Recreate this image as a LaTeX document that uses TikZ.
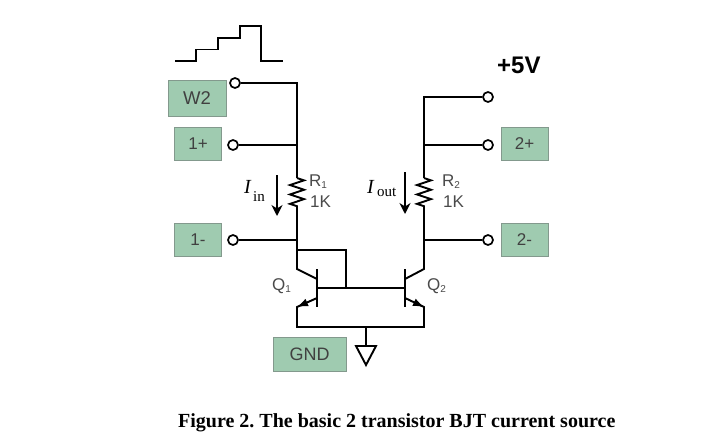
\documentclass[tikz,border=0pt]{standalone}
\usepackage{fontspec}
\setmainfont{Liberation Sans}
\newfontfamily\serifcap{Liberation Serif}
\usetikzlibrary{arrows.meta,decorations.pathmorphing}
\definecolor{boxgreen}{HTML}{9FCBB0}
\definecolor{boxedge}{HTML}{83998D}
\definecolor{labelgrey}{HTML}{4A4A4A}
\tikzset{
  wire/.style={line width=1.9pt,line join=miter},
  term/.style={circle,draw,line width=1.7pt,fill=white,inner sep=0pt,minimum size=10pt},
  pad/.style={draw=boxedge,line width=1pt,fill=boxgreen,inner sep=0pt,text=black!75,font=\fontsize{17}{17}\selectfont},
  lab/.style={inner sep=0pt,text=labelgrey,font=\fontsize{17}{17}\selectfont},
  sub/.style={inner sep=0pt,font=\serifcap\fontsize{20}{20}\selectfont},
  subs/.style={inner sep=0pt,font=\serifcap\fontsize{15}{15}\selectfont},
  res/.style={wire,decorate,decoration={zigzag,segment length=9.4pt,amplitude=7pt}},
  bar/.style={line width=2pt},
  iarrow/.style={line width=2pt,-{Stealth[length=11pt,width=11pt]}},
  etip/.style={line width=1pt,-{Latex[length=11pt,width=8pt]}}
}
\begin{document}
\begin{tikzpicture}[x=1pt,y=-1pt]
\useasboundingbox (0,0) rectangle (710,442);

% step waveform
\draw[wire] (175,61) -- (196,61) -- (196,49.5) -- (218,49.5) -- (218,38) -- (240,38) -- (240,26) -- (261,26) -- (261,61) -- (283,61);

% pads
\node[pad,minimum width=58pt,minimum height=36pt,font=\fontsize{18.5}{18.5}\selectfont] (w2) at (197,98) {W2};
\node[pad,minimum width=47pt,minimum height=33pt] (p1) at (198,144) {1+};
\node[pad,minimum width=47pt,minimum height=33pt] (m1) at (198,240) {1-\hspace{5pt}};
\node[pad,minimum width=47pt,minimum height=33pt] (p2) at (524.5,144) {2+};
\node[pad,minimum width=47pt,minimum height=33pt] (m2) at (524.5,240) {2-\hspace{5pt}};
\node[pad,minimum width=73pt,minimum height=34pt,font=\fontsize{18}{18}\selectfont] (gnd) at (309.5,354) {GND\hspace{7pt}};

% left rail
\coordinate (a0) at (297,83);
\coordinate (a1) at (297,145);
\coordinate (a2) at (297,178);
\coordinate (a3) at (297,207);
\coordinate (a4) at (297,240);
\coordinate (a5) at (297,250);
\coordinate (c1) at (297,269);
% right rail
\coordinate (b0) at (424,97);
\coordinate (b1) at (424,145);
\coordinate (b2) at (424,178);
\coordinate (b3) at (424,207);
\coordinate (b4) at (424,240);
\coordinate (c2) at (424,269);
% transistors
\coordinate (q1t) at (317,269);
\coordinate (q1b) at (317,307);
\coordinate (q1c) at (317,279);
\coordinate (q1e) at (317,298);
\coordinate (q1m) at (317,288);
\coordinate (e1) at (297,307);
\coordinate (q2t) at (405,269);
\coordinate (q2b) at (405,307);
\coordinate (q2c) at (405,279);
\coordinate (q2e) at (405,298);
\coordinate (q2m) at (405,288);
\coordinate (e2) at (424,307);
\coordinate (d1) at (297,327);
\coordinate (d2) at (424,327);
\coordinate (dg) at (366,327);
\coordinate (tg) at (366,346);
\coordinate (fb) at (346,250);
\coordinate (fm) at (346,288);

% terminals
\node[term] (tw) at (235,83) {};
\node[term] (t1p) at (233,145) {};
\node[term] (t1m) at (233,240) {};
\node[term] (t5) at (488,97) {};
\node[term] (t2p) at (488,145) {};
\node[term] (t2m) at (488,240) {};

% left branch
\draw[wire] (tw) -- (a0) -- (a2);
\draw[wire] (t1p) -- (a1);
\draw[res] (a2) -- (a3);
\draw[wire] (a3) -- (c1) -- (q1c);
\draw[wire] (t1m) -- (a4);
\draw[wire] (a5) -- (fb) -- (fm);

% right branch
\draw[wire] (t5) -- (b0) -- (b2);
\draw[wire] (t2p) -- (b1);
\draw[res] (b2) -- (b3);
\draw[wire] (b3) -- (c2) -- (q2c);
\draw[wire] (t2m) -- (b4);

% transistors
\draw[bar] (q1t) -- (q1b);
\draw[bar] (q2t) -- (q2b);
\draw[wire] (q1m) -- (q2m);
\draw[wire] (q1e) -- (e1) -- (d1) -- (d2) -- (e2) -- (q2e);
\draw[etip] (q1e) -- (e1);
\draw[etip] (q2e) -- (e2);

% ground
\draw[wire] (dg) -- (tg);
\draw[wire] (356,346) -- (376,346) -- (366,365) -- cycle;

% current arrows
\coordinate (i1a) at (277,175);
\coordinate (i1b) at (277,216);
\coordinate (i2a) at (405,172);
\coordinate (i2b) at (405,214);
\draw[iarrow] (i1a) -- (i1b);
\draw[iarrow] (i2a) -- (i2b);

% labels
\node[sub,anchor=west] (iin) at (244,187) {\textit{I}};
\node[subs,anchor=west] (iinb) at (253,197) {in};
\node[sub,anchor=west] (iout) at (367,187) {\textit{I}};
\node[subs,anchor=west] (ioutb) at (377,192) {out};
\node[lab,anchor=west] (r1) at (309,182) {R\raisebox{-2pt}{\fontsize{10}{10}\selectfont 1}};
\node[lab,anchor=west] (r1v) at (310,202) {1K};
\node[lab,anchor=west] (r2) at (442,182) {R\raisebox{-2pt}{\fontsize{10}{10}\selectfont 2}};
\node[lab,anchor=west] (r2v) at (443,202) {1K};
\node[lab,anchor=west] (q1) at (272,286) {Q\raisebox{-2pt}{\fontsize{10}{10}\selectfont 1}};
\node[lab,anchor=west] (q2) at (427,286) {Q\raisebox{-2pt}{\fontsize{10}{10}\selectfont 2}};
\node[inner sep=0pt,anchor=west,font=\bfseries\fontsize{24}{24}\selectfont] (vcc) at (497,65) {+5V};
\node[inner sep=0pt,anchor=west,font=\serifcap\bfseries\fontsize{20}{20}\selectfont] (cap) at (178,423) {\frenchspacing Figure 2. The basic 2 transistor BJT current source};
\end{tikzpicture}
\end{document}
